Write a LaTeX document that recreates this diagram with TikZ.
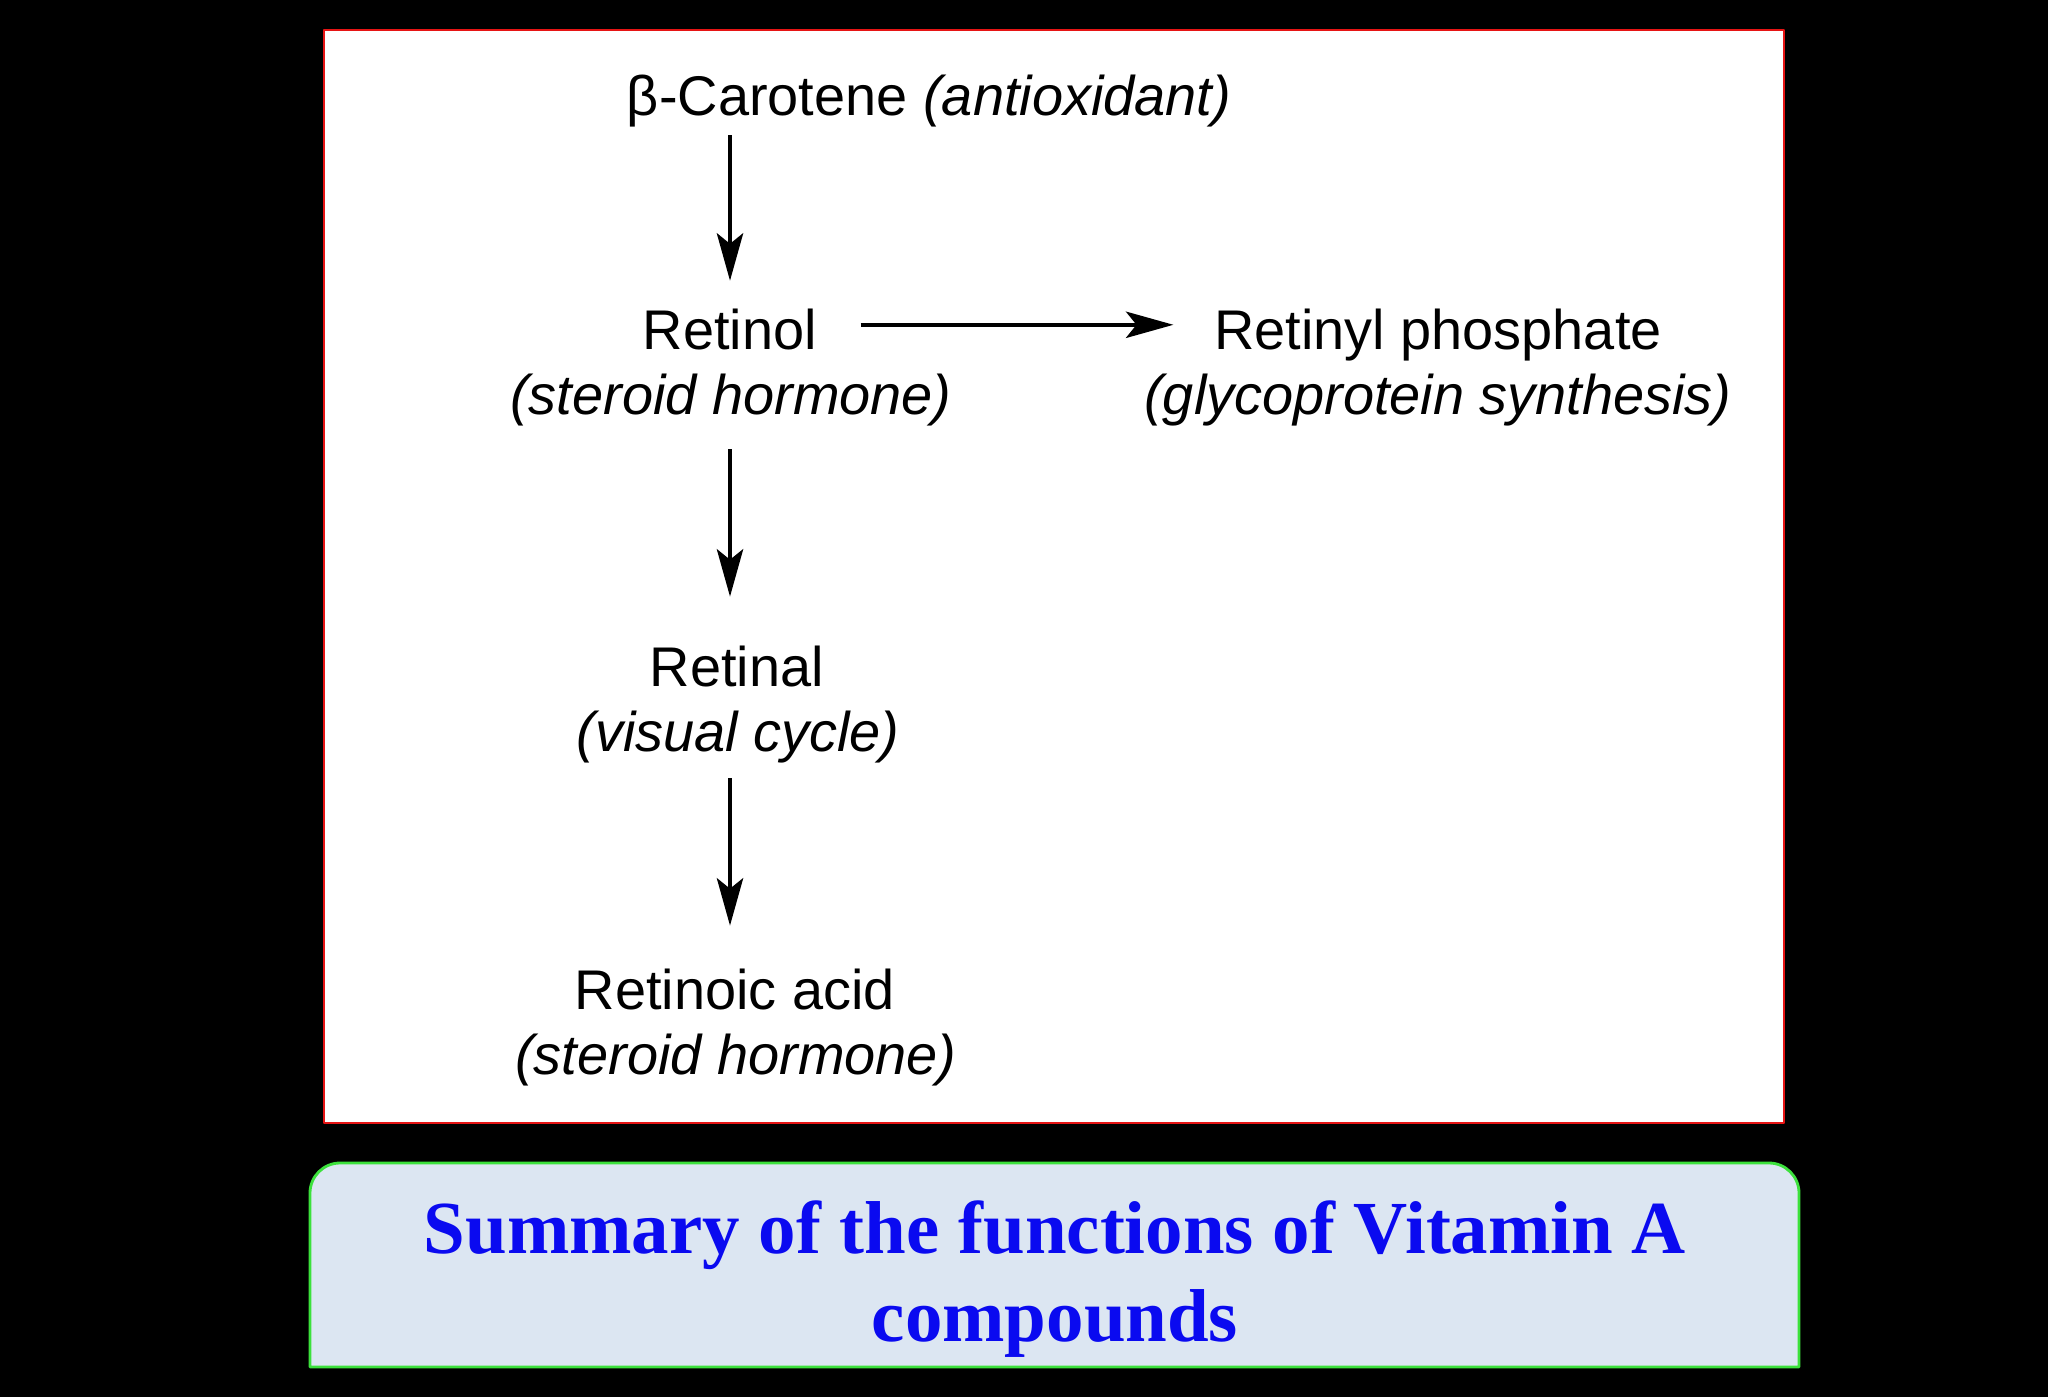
\documentclass[tikz,border=0pt]{standalone}
\usepackage{fontspec}
\usetikzlibrary{arrows.meta}
\newfontfamily\diagfont{Liberation Sans}
\newfontfamily\capfont{Liberation Serif}
\definecolor{framered}{RGB}{230,20,20}
\definecolor{capfill}{RGB}{220,230,242}
\definecolor{capline}{RGB}{60,225,60}
\definecolor{capblue}{RGB}{10,10,240}
\tikzset{
  cmpd/.style={anchor=base, inner sep=0pt, font=\diagfont\fontsize{15.9}{18.4}\selectfont},
  role/.style={cmpd, font=\diagfont\itshape\fontsize{15.9}{18.4}\selectfont},
  arr/.style={-{Stealth[length=13.5pt, width=7.5pt, inset=3pt]}, line width=1pt},
}
\begin{document}
\begin{tikzpicture}[x=0.01cm, y=-0.01cm, line join=round]
			% Background and frames
			\fill[black] (0,0) rectangle (2048,1397);
			\draw[framered, line width=0.7pt, fill=white] (324,30) rectangle (1784,1123);
			\draw[capline, line width=0.8pt, fill=capfill]
			(310,1367) [rounded corners=0.3cm] -- (310,1163) -- (1799,1163)
			[sharp corners] -- (1799,1367) -- cycle;
			
			% Compounds with their roles
			\node[cmpd] (car) at (929,116) {β-Carotene \textit{(antioxidant)}};
			\node[cmpd] (ret) at (730,349) {Retinol};
			\node[role] (retR) at (731,414) {(steroid hormone)};
			\node[cmpd] (rp) at (1438,349) {Retinyl phosphate};
			\node[role] (rpR) at (1438,414) {(glycoprotein synthesis)};
			\node[cmpd] (ral) at (737,686) {Retinal};
			\node[role] (ralR) at (738,751) {(visual cycle)};
			\node[cmpd] (rac) at (735,1009) {Retinoic acid};
			\node[role] (racR) at (736,1074) {(steroid hormone)};
			
			% Conversions
			\draw[arr, shorten <=2pt, shorten >=7.7pt] (car.south -| ret.north) -- (ret.north);
			\draw[arr, shorten <=12.2pt, shorten >=11.4pt] ([yshift=1.2pt]ret.east) -- ([yshift=1.2pt]ret.east -| rp.west);
			\draw[arr, shorten <=6.5pt, shorten >=13.7pt] (retR.south -| ret.north) -- (ral.north -| ret.north);
			\draw[arr, shorten <=4.3pt, shorten >=12pt] (ralR.south -| ret.north) -- (rac.north -| ret.north);
			
			% Caption
			\node[anchor=base, align=center, text=capblue, inner sep=0pt,
			font=\capfont\bfseries\fontsize{21.3}{25}\selectfont] (cap) at (1055,1341)
			{Summary of the functions of Vitamin A\\compounds};
		\end{tikzpicture}
\end{document}
